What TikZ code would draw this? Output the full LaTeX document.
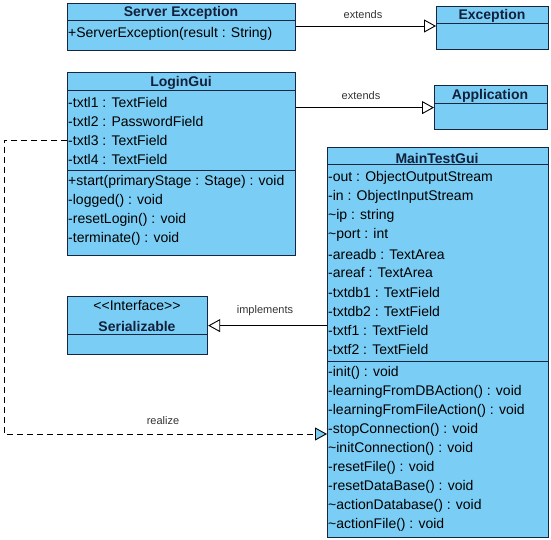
\documentclass[tikz,border=0pt]{standalone}
\usepackage{fontspec}
\setmainfont{Liberation Sans}
\usetikzlibrary{arrows.meta}
\definecolor{umlfill}{RGB}{122,206,245}
\definecolor{umlline}{RGB}{22,38,62}
\definecolor{umlhead}{RGB}{18,32,60}
\begin{document}
\begin{tikzpicture}[x=1pt,y=-1pt,
  classbox/.style={draw=umlline,fill=umlfill,line width=1.2pt,inner sep=0pt,anchor=north west},
  sep/.style={draw=umlline,line width=1pt},
  head/.style={font=\fontsize{14}{16}\selectfont\bfseries,text=umlhead,inner sep=0pt},
  member/.style={font=\fontsize{14}{16}\selectfont,anchor=west,inner sep=0pt},
  lbl/.style={font=\fontsize{11}{13}\selectfont,text=black!80,inner sep=0pt},
  gen/.style={line width=0.9pt,-{Triangle[open,length=12pt,width=13pt]}},
  real/.style={line width=0.9pt,dashed,dash pattern=on 6pt off 4pt,-{Triangle[fill=umlfill,length=12pt,width=13pt]}}]
\useasboundingbox (0,0) rectangle (551,540);
% classes
\node[classbox,minimum width=228pt,minimum height=47pt] (srvexc) at (67,3) {};
\node[classbox,minimum width=112pt,minimum height=43pt] (exc) at (436,6) {};
\node[classbox,minimum width=228pt,minimum height=183pt] (login) at (67,72) {};
\node[classbox,minimum width=113pt,minimum height=44pt] (app) at (434,85) {};
\node[classbox,minimum width=221pt,minimum height=390pt] (main) at (327,147) {};
\node[classbox,minimum width=140pt,minimum height=58pt] (ser) at (67,296) {};
\draw[sep] (67,21) -- (295,21);
\draw[sep] (436,24) -- (548,24);
\draw[sep] (67,91) -- (295,91) (67,171) -- (295,171);
\draw[sep] (434,104) -- (547,104);
\draw[sep] (327,165) -- (548,165) (327,361) -- (548,361);
\draw[sep] (67,334) -- (207,334);
\node[head] (srvname) at (181,13) {Server Exception};
\node[head] (excname) at (492,16) {Exception};
\node[head] (loginname) at (181,83) {LoginGui};
\node[head] (appname) at (490,96) {Application};
\node[head] (mainname) at (437,158) {MainTestGui};
\node[member,anchor=center] (stereo) at (137,306) {{<}{<}Interface{>}{>}};
\node[head] (sername) at (137,326) {Serializable};
\node[member] (srvop) at (68,34) {+ServerException(result : String)};
\foreach \t [count=\i] in {{-txtl1 : TextField},{-txtl2 : PasswordField},{-txtl3 : TextField},{-txtl4 : TextField}}
  \node[member] (la\i) at (68,83+19*\i) {\t};
\foreach \t [count=\i] in {{+start(primaryStage : Stage) : void},{-logged() : void},{-resetLogin() : void},{-terminate() : void}}
  \node[member] (lo\i) at (68,163+19*\i) {\t};
\foreach \t [count=\i] in {{-out : ObjectOutputStream},{-in : ObjectInputStream},{\textasciitilde ip : string},{\textasciitilde port : int},{-areadb : TextArea},{-areaf : TextArea},{-txtdb1 : TextField},{-txtdb2 : TextField},{-txtf1 : TextField},{-txtf2 : TextField}}
  \node[member] (ma\i) at (328,159+19*\i) {\t};
\foreach \t [count=\i] in {{-init() : void},{-learningFromDBAction() : void},{-learningFromFileAction() : void},{-stopConnection() : void},{\textasciitilde initConnection() : void},{-resetFile() : void},{-resetDataBase() : void},{\textasciitilde actionDatabase() : void},{\textasciitilde actionFile() : void}}
  \node[member] (mo\i) at (328,354+19*\i) {\t};
% relations
\draw[gen] (srvexc.east |- 0,26) -- (exc.west |- 0,26);
\node[lbl] (ext1) at (363,15) {extends};
\draw[gen] (login.east |- app.west) -- (app.west);
\node[lbl] (ext2) at (361,96) {extends};
\draw[gen] (main.west |- ser.east) -- (ser.east);
\node[lbl] (impl) at (265,311) {implements};
\coordinate (rbend) at (4,434);
\draw[real] (login.west |- la3) -| (rbend) -- (rbend -| main.west);
\node[lbl] (reallbl) at (163,421) {realize};
\end{tikzpicture}
\end{document}
